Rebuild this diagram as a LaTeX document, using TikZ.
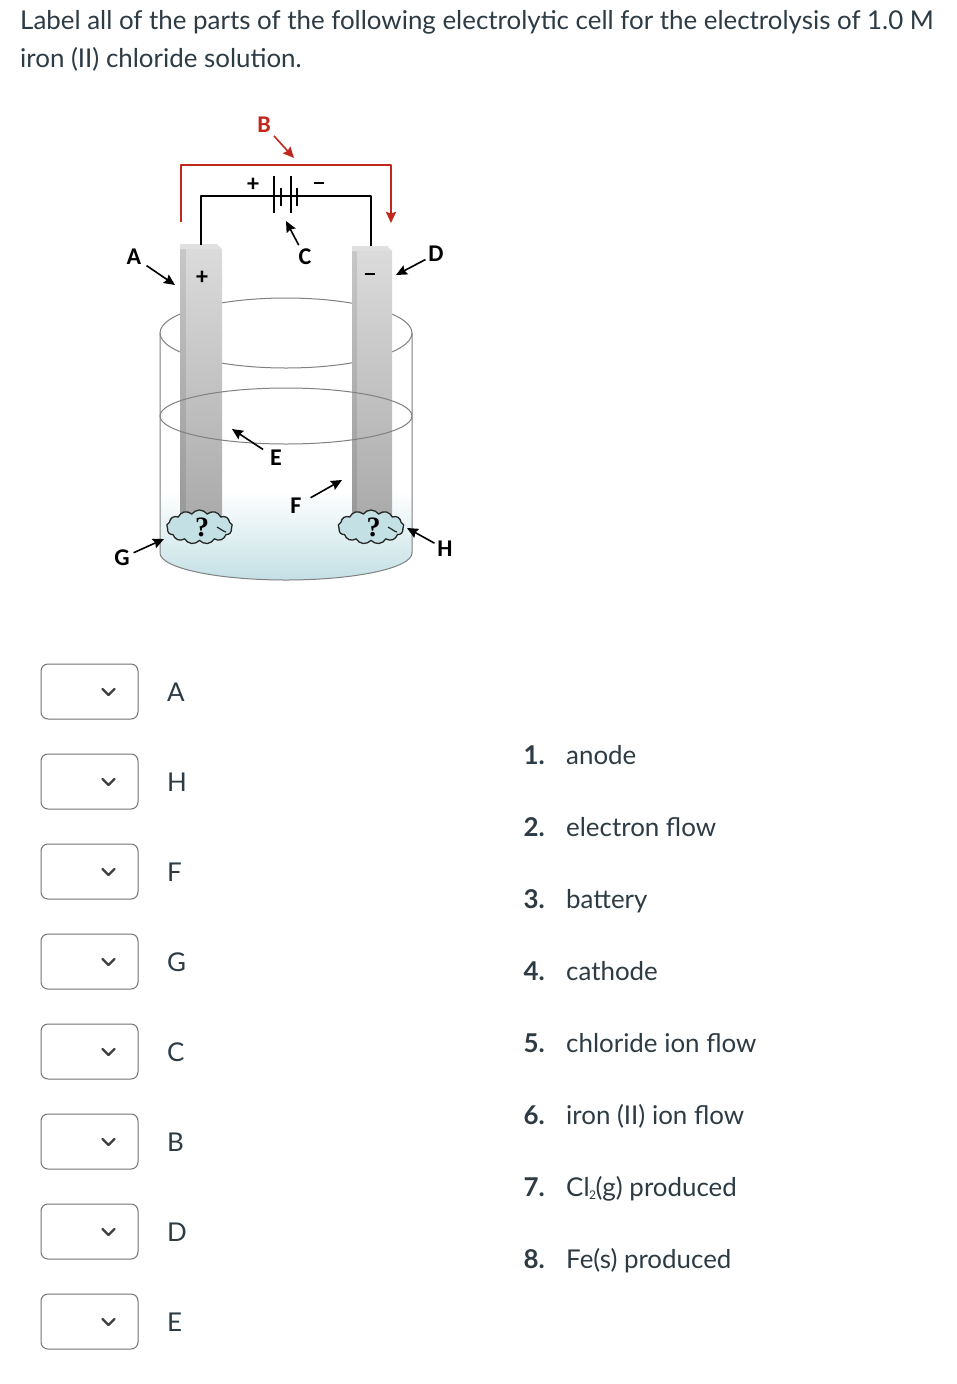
\documentclass[tikz,border=0pt]{standalone}
\usepackage{fontspec}
\setmainfont{Lato}
\newfontfamily\diagfont{Carlito}
\newfontfamily\qfont{Liberation Serif}
\usetikzlibrary{arrows.meta,shapes.symbols}
\definecolor{ink}{HTML}{2D3B45}
\definecolor{liquid}{HTML}{C3E0E5}
\definecolor{wirered}{HTML}{C0281E}
\tikzset{
  body/.style={anchor=base west,inner sep=0pt,text=ink,font=\fontsize{25.9}{30}\selectfont},
  numlab/.style={anchor=base west,inner sep=0pt,text=ink,font=\fontsize{25.9}{30}\selectfont\bfseries},
  ddbox/.style={draw=black!55,line width=1pt,rounded corners=7pt,minimum width=97pt,minimum height=55pt,inner sep=0pt},
  chev/.style={draw=black!75,line width=2.4pt,line cap=round,line join=round},
  glass/.style={draw=black!50,line width=1pt},
  wire/.style={draw=black,line width=2.8pt,line join=round},
  plate/.style={line width=2pt,draw=black},
  redwire/.style={draw=wirered,line width=2.8pt,line join=round},
  arr/.style={draw=black,line width=1.6pt,-{Stealth[length=11pt,width=10pt,inset=1.5pt]}},
  redarr/.style={draw=wirered,line width=1.6pt,-{Stealth[length=11pt,width=10pt,inset=1.5pt]}},
  lab/.style={font=\diagfont\fontsize{24}{26}\selectfont\bfseries,text=black,inner sep=1pt},
  redlab/.style={lab,text=wirered},
  sign/.style={font=\diagfont\fontsize{24}{26}\selectfont\bfseries,text=black,inner sep=0pt},
  bubble/.style={cloud,cloud puffs=13,cloud puff arc=110,aspect=2.4,draw=black!85,fill=liquid,line width=1.3pt,minimum width=64pt,minimum height=32pt,inner sep=0pt,font=\qfont\fontsize{28}{30}\selectfont\bfseries},
}
\begin{document}
\begin{tikzpicture}[x=1pt,y=-1pt]
\useasboundingbox (0,0) rectangle (956,1384);
\fill[white] (0,0) rectangle (956,1384);
% title
\node[body] (titleA) at (20,29) {Label all of the parts of the following electrolytic cell for the electrolysis of 1.0 M};
\node[body] (titleB) at (20,67) {iron (II) chloride solution.};
% liquid
\shade[top color=white,bottom color=liquid] (160,492) -- (412,492) -- (412,553) arc[start angle=0,end angle=-180,x radius=126,y radius=-27] -- cycle;
% beaker
\draw[glass] (286,333) ellipse[x radius=126,y radius=35];
\draw[glass] (160,333) -- (160,553) arc[start angle=180,end angle=360,x radius=126,y radius=-27] -- (412,333);
% left electrode
\shade[top color=black!22,bottom color=black!40] (180,249) rectangle (186,515);
\fill[black!12] (180,244) -- (217,244) -- (222,249) -- (186,249) -- (180,249) -- cycle;
\shade[top color=black!14,bottom color=black!33] (186,249) rectangle (222,515);
% right electrode
\shade[top color=black!22,bottom color=black!40] (352,251) rectangle (357,515);
\fill[black!12] (352,246) -- (387,246) -- (392,251) -- (357,251) -- (352,251) -- cycle;
\shade[top color=black!14,bottom color=black!33] (357,251) rectangle (392,515);
% second ellipse
\draw[glass] (286,416) ellipse[x radius=126,y radius=28];
% circuit
\coordinate (leftTop) at (201,245);
\coordinate (rightTop) at (371,246);
\coordinate (redStart) at (181,222);
\coordinate (redEnd) at (391,223);
\draw[redwire] (redStart) |- (391,165) -- (391,214);
\draw[redarr,line width=2.8pt] (391,211) -- (redEnd);
\draw[wire] (leftTop) |- (rightTop |- 0,196) -- (rightTop);
\draw[plate] (274,176) -- (274,213);
\draw[plate] (281,188) -- (281,206);
\draw[plate] (291,176) -- (291,213);
\draw[plate] (297,188) -- (297,206);
\node[sign] (batPlus) at (253,185) {+};
\node[sign] (batMinus) at (319,183) {\rule{10pt}{2.8pt}};
\node[sign] (elPlus) at (202,278) {+};
\node[sign] (elMinus) at (370,274) {\rule{10pt}{2.8pt}};
% clouds
\node[bubble] (cloudL) at (199.5,527) {\hspace*{5pt}?};
\node[bubble] (cloudR) at (371,527) {\hspace*{5pt}?};
\draw[draw=black!85,line width=1.2pt] (217,527) .. controls (220,528) and (222,531) .. (226,532);
\draw[draw=black!85,line width=1.2pt] (388,527) .. controls (391,528) and (393,531) .. (397,532);
% labels and arrows
\node[redlab] (labB) at (264,125) {B};
\coordinate (tipB) at (294,158);
\draw[redarr,shorten <=3pt] (labB) -- (tipB);
\node[lab] (labC) at (305,257) {C};
\coordinate (tipC) at (286,221);
\draw[arr,shorten <=3pt] (labC) -- (tipC);
\node[lab] (labA) at (134,257) {A};
\coordinate (tipA) at (175,285);
\draw[arr,shorten <=5pt] (labA) -- (tipA);
\node[lab] (labD) at (436,254) {D};
\coordinate (tipD) at (396,275);
\draw[arr,shorten <=2pt] (labD) -- (tipD);
\node[lab] (labE) at (276,458) {E};
\coordinate (tipE) at (232,429);
\draw[arr,shorten <=7pt] (labE) -- (tipE);
\node[lab] (labF) at (296,506) {F};
\coordinate (tipF) at (342,480);
\draw[arr,shorten <=9pt] (labF) -- (tipF);
\node[lab] (labG) at (122,558) {G};
\coordinate (tipG) at (164,539);
\draw[arr,shorten <=3pt] (labG) -- (tipG);
\node[lab] (labH) at (445,549) {H};
\coordinate (tipH) at (407,528);
\draw[arr,shorten <=2pt] (labH) -- (tipH);
% dropdowns
\foreach \i/\t in {0/A,1/H,2/F,3/G,4/C,5/B,6/D,7/E}{
  \node[ddbox] (box\i) at (89.5,{691.5+90*\i}) {};
  \draw[chev] (102.5,{689+90*\i}) -- (108.5,{695+90*\i}) -- (114.5,{689+90*\i});
  \node[body] (opt\i) at (167,{701+90*\i}) {\t};
}
% answers
\foreach \i/\t in {1/anode,2/electron flow,3/battery,4/cathode,5/chloride ion flow,6/iron (II) ion flow,7/Cl\kern-0.5pt\raisebox{-3.5pt}{\fontsize{12}{12}\selectfont 2}\kern-0.5pt(g) produced,8/Fe(s) produced}{
  \node[numlab] (num\i) at (523.5,{692+72*\i}) {\i.};
  \node[body] (ans\i) at (566,{692+72*\i}) {\t};
}
\end{tikzpicture}
\end{document}
